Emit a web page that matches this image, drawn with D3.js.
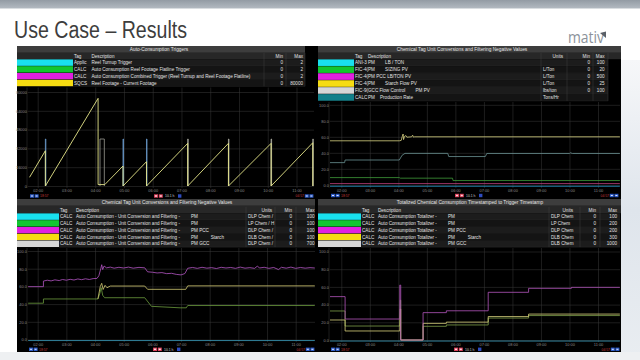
<!DOCTYPE html>
<html><head><meta charset="utf-8">
<script src="https://cdn.jsdelivr.net/npm/d3@7"></script>
<style>
html,body{margin:0;padding:0;background:#fff;}
svg{display:block;font-family:"Liberation Sans",Arial,sans-serif;}
.tt{fill:#e6e6e6;font-size:4.8px;}
.tx{fill:#e2e2e2;font-size:4.6px;white-space:pre;}
.ax text{fill:#8c8c8c;font-size:3.9px;font-family:"Liberation Sans",Arial,sans-serif;}
.ax line{stroke:#3a3a3a;stroke-width:0.5;}
.ax path{display:none;}
</style></head><body>
<svg id="c" width="640" height="360"></svg>
<script>
// ---------------- DATA ----------------
const slideTitle = "Use Case – Results";
const logoText = "mativ";
const hourTicks = ["02:00","03:00","04:00","05:00","06:00","07:00","08:00","09:00","10:00","11:00"];
const toolbarText = ["18:57", "10.1 h", "04:57"];

// Panel 1: Auto-Consumption Triggers
const p1Title = "Auto-Consumption Triggers";
const p1Tags = ["Applic","CALC","CALC","SQCS"];
const p1Desc = ["Reel Turnup Trigger","Auto Consumption Reel Footage Flatline Trigger","Auto Consumption Combined Trigger (Reel Turnup and Reel Footage Flatline)","Reel Footage - Current Footage"];
const p1Min = ["0","0","0","0"];
const p1Max = ["2","2","2","80000"];
const p1YTicks = [0,16000,32000,48000,64000,80000];
const p1TriggerScale = [0,2];
const p1ReelFootage = [["01:43",7400],["02:16",30000],["02:16",0],["04:06",74600],["04:06",1200],["04:20",1200],["04:58",17000],["04:58",0],["05:47",20700],["05:47",0],["07:13",36300],["07:13",0],["08:38",36300],["08:38",0],["10:07",36300],["10:07",0],["11:34",36800],["11:34",0]];
const p1TurnupPulses = [["02:16","02:17"],["04:58","04:59"],["05:47","05:48"]];
const p1FlatlinePulses = [["04:10","04:19"]];
const p1CombinedPulses = [["07:13","07:14"],["08:38","08:39"],["10:07","10:08"],["11:34","11:35"]];

// Panel 2: Chemical Tag Unit Conversions and Filtering Negative Values
const p2Title = "Chemical Tag Unit Conversions and Filtering Negative Values";
const p2Tags = ["ANI-3","FIC-4(","FIC-4(","FIC-4(","FIC-9(","CALC"];
const p2Desc = ["PM        LB / TON","PM        SIZING PV","PM PCC LB/TON PV","PM        Starch Flow PV","GCC Flow Control        PM PV","PM    Production Rate"];
const p2Units = ["","L/Ton","L/Ton","L/Ton","lbs/ton","Tons/Hr"];
const p2Min = ["0","0","0","0","0",""];
const p2Max = ["100","20","500","25","100",""];
const pctTicks = [0,20,40,60,80,100];
const p2Starch = [["01:35",55],["04:02",55],["04:06",55.5],["04:08",60],["04:10",63.5],["04:11",56.5],["04:13",60.5],["04:16",61.5],["04:18",59.5],["04:28",60],["04:30",62],["04:32",59.5],["04:34",60],["11:46",60]];
const p2Production = [["01:35",27.7],["02:07",27.7],["02:08",31],["04:02",31],["04:08",37],["04:14",39.3],["05:44",39.3],["05:46",35.3],["07:03",35.3],["07:06",39.2],["10:00",39.2],["10:02",40],["10:06",39.2],["11:46",39.2]];
const p2Sizing = [["01:35",9],["04:02",9],["04:04",8.3],["05:54",8.3],["05:55",5.3],["11:46",5.3]];
const p2PCC = [["01:35",1.5],["11:46",1.5]];
const p2LbTon = [["01:35",-1.8],["11:46",-1.8]];

// Panel 3: Chemical Tag Unit Conversions (Auto Consumption)
const p3Title = "Chemical Tag Unit Conversions and Filtering Negative Values";
const p3Tags = ["CALC","CALC","CALC","CALC","CALC"];
const p3Desc = ["Auto Consumption - Unit Conversion and Filtering -","Auto Consumption - Unit Conversion and Filtering -","Auto Consumption - Unit Conversion and Filtering -","Auto Consumption - Unit Conversion and Filtering -","Auto Consumption - Unit Conversion and Filtering -"];
const p3Sub = ["PM","PM","PM PCC","PM          Starch","PM GCC"];
const p3Units = ["DLP Chem /","LP Chem / H","DLP Chem /","DLB Chem /","DLP Chem /"];
const p3Min = ["0","0","0","0","0"];
const p3Max = ["100","100","100","100","700"];
const p3PCC = [["01:40",59.7],["02:12",59.7],["02:12",66],["02:20",67],["02:28",66.2],["02:36",67.4],["02:45",66.6],["02:52",67.8],["03:00",67],["03:08",68],["03:16",67.2],["03:24",68.4],["03:32",67.6],["03:40",68.6],["03:48",67.8],["03:56",68.8],["04:04",69],["04:08",72],["04:12",80],["04:14",84.5],["04:16",79],["04:19",83],["04:24",81],["04:32",81.8],["04:40",80.6],["04:50",81.6],["05:00",80.8],["05:10",81.8],["05:20",80.6],["05:32",81.5],["05:44",81],["05:50",76.5],["06:00",76],["06:10",75.2],["06:20",75.6],["06:30",74.4],["06:40",74.8],["06:50",73.6],["07:00",73],["07:08",74.5],["07:14",80.5],["07:24",81.4],["07:34",80.4],["07:44",81.6],["07:54",80.6],["08:04",81.2],["08:14",80.2],["08:24",81.6],["08:34",80.8],["08:44",81.4],["08:54",80.4],["09:04",81.8],["09:14",80.6],["09:24",81.2],["09:34",80.4],["09:40",83],["09:44",80.8],["09:54",81.6],["10:04",80.4],["10:14",81.4],["10:24",79],["10:30",81.6],["10:40",80.6],["10:50",81.8],["11:00",80.4],["11:10",81.4],["11:20",80.6],["11:30",81.2],["11:40",80.8]];
const p3Sizing = [["01:40",41],["02:12",41],["02:12",45.8],["04:06",45.8],["04:10",52],["04:13",58.5],["04:16",50],["04:20",47.2],["05:44",47.2],["05:58",37.5],["06:58",35.8],["07:11",35.8],["07:14",38.4],["11:40",38.4]];
const p3Starch = [["04:06",45.8],["04:11",60],["04:14",63.5],["04:17",56.5],["04:21",61.2],["04:25",58.5],["04:32",60.4],["05:44",60.4],["05:50",56.7],["07:10",56.7],["07:14",60.6],["11:40",60.6]];
const p3LbTon = [["01:40",-1.2],["11:40",-1.2]];

// Panel 4: Totalized Chemical Consumption
const p4Title = "Totalized Chemical Consumption Timestamped to Trigger Timestamp";
const p4Tags = ["CALC","CALC","CALC","CALC","CALC"];
const p4Desc = ["Auto Consumption Totalizer -","Auto Consumption Totalizer -","Auto Consumption Totalizer -","Auto Consumption Totalizer -","Auto Consumption Totalizer -"];
const p4Sub = ["PM","PM","PM PCC","PM          Starch","PM GCC"];
const p4Units = ["DLP Chem","LP Chem","DLP Chem","DLB Chem","DLB Chem"];
const p4Min = ["0","0","0","0","0"];
const p4Max = ["100","200","200","300","1000"];
const p4PCC = [["01:35",49],["02:08",49],["02:08",23.7],["04:03",23.7],["04:03",62],["04:05",62],["04:05",0],["04:52",0],["04:52",30.9],["05:41",30.9],["05:41",33],["07:09",33],["07:09",53.9],["08:34",53.9],["08:34",58.4],["10:04",58.4],["10:04",59.5],["11:46",59.5]];
const p4Sizing = [["01:35",32.8],["02:08",32.8],["02:08",15.8],["04:03",15.8],["04:04",45],["04:05",45],["04:05",0],["04:52",0],["04:52",15.5],["05:41",15.5],["05:41",17],["07:09",17],["07:09",24.8],["08:34",24.8],["08:34",27.6],["11:46",27.6]];
const p4Starch = [["01:35",22.6],["02:08",22.6],["02:08",10.2],["04:03",10.2],["04:04",35],["04:05",35],["04:05",0],["04:52",0],["04:52",18.8],["05:41",18.8],["05:41",20.2],["07:09",20.2],["07:09",26.5],["08:34",26.5],["08:34",29.3],["11:46",29.3]];
const p4LbTon = [["01:35",-1.2],["11:46",-1.2]];

// ---------------- DRAWING ----------------
const CY="#19e0ee", GR="#12c630", MG="#e020e0", YE="#f6dc12", LG="#d6d6d6", TE="#11808a";
const parseT = s => { const [h,m] = s.split(":").map(Number); return new Date(2021,0,1,h,m); };
const svg = d3.select("#c");
const defs = svg.append("defs");

const gTop = defs.append("linearGradient").attr("id","gTop").attr("x1",0).attr("y1",0).attr("x2",0).attr("y2",1);
gTop.append("stop").attr("offset","0").attr("stop-color","#939ba4");
gTop.append("stop").attr("offset","1").attr("stop-color","#b3bac1");
const gRight = defs.append("linearGradient").attr("id","gRight").attr("x1",0).attr("y1",0).attr("x2",0).attr("y2",1);
gRight.append("stop").attr("offset","0").attr("stop-color","#f6f7f9");
gRight.append("stop").attr("offset","0.5").attr("stop-color","#dfe5ec");
gRight.append("stop").attr("offset","1").attr("stop-color","#e9edf1");

svg.append("rect").attr("width",640).attr("height",360).attr("fill","#ffffff");
svg.append("rect").attr("x",621).attr("y",60).attr("width",19).attr("height",300).attr("fill","url(#gRight)");
svg.append("rect").attr("x",0).attr("y",352).attr("width",640).attr("height",8).attr("fill","#eef0f2");
svg.append("rect").attr("x",0).attr("y",0).attr("width",640).attr("height",8.5).attr("fill","url(#gTop)");

svg.append("text").attr("x",14).attr("y",37.5).attr("font-size",23.5).attr("fill","#3d3d3d")
  .attr("textLength",173).attr("lengthAdjust","spacingAndGlyphs").text(slideTitle);
svg.append("text").attr("x",568).attr("y",43).attr("font-size",16.5).attr("fill","#8b929a")
  .attr("font-family","'Open Sans',sans-serif").attr("textLength",36).attr("lengthAdjust","spacingAndGlyphs").text(logoText);
svg.append("path").attr("d","M600,33 L606,31.5 L606,38 Z").attr("fill","#5a6068");

// black panel background
svg.append("rect").attr("x",17).attr("y",46).attr("width",604).attr("height",306).attr("fill","#000");

function drawTable(p) {
  const g = svg.append("g");
  g.append("rect").attr("x",p.x0).attr("y",p.top).attr("width",p.x1-p.x0).attr("height",p.rowTop-p.top).attr("fill","#272727");
  g.append("rect").attr("x",p.x0).attr("y",p.top).attr("width",p.x1-p.x0).attr("height",6.4).attr("fill","#3d3d3d");
  g.append("text").attr("class","tt").attr("x",p.titleX).attr("y",p.top+5).attr("text-anchor","middle").text(p.title);
  const hy = p.rowTop - 1.5;
  g.append("text").attr("class","tx").attr("x",p.tagX).attr("y",hy).text("Tag");
  g.append("text").attr("class","tx").attr("x",p.descX).attr("y",hy).text("Description");
  if (p.units) g.append("text").attr("class","tx").attr("x",p.unitsHX).attr("y",hy).attr("text-anchor","end").text("Units");
  g.append("text").attr("class","tx").attr("x",p.minX).attr("y",hy).attr("text-anchor","end").text("Min");
  g.append("text").attr("class","tx").attr("x",p.maxX).attr("y",hy).attr("text-anchor","end").text("Max");
  const rows = p.tags.map((t,i)=>({i, tag:t, desc:p.desc[i], sub:p.sub?p.sub[i]:null, units:p.units?p.units[i]:null, min:p.min[i], max:p.max[i], color:p.colors[i]}));
  const rg = g.selectAll("g.row").data(rows).join("g").attr("transform",d=>`translate(0,${p.rowTop + d.i*p.rowH})`);
  rg.append("rect").attr("x",p.x0).attr("y",0).attr("width",p.tabR-p.x0).attr("height",p.rowH).attr("fill",d=>d.i%2?"#141414":"#1c1c1c");
  rg.append("line").attr("x1",p.tagX-1).attr("x2",p.tabR).attr("y1",p.rowH).attr("y2",p.rowH).attr("stroke","#3a3a3a").attr("stroke-width",0.3);
  rg.append("rect").attr("x",p.x0).attr("y",0.2).attr("width",p.swR-p.x0).attr("height",p.rowH-0.4).attr("fill",d=>d.color);
  const ty = p.rowH/2 + 1.6;
  rg.append("text").attr("class","tx").attr("x",p.tagX).attr("y",ty).text(d=>d.tag);
  rg.append("text").attr("class","tx").attr("x",p.descX).attr("y",ty).text(d=>d.desc);
  if (p.sub) rg.append("text").attr("class","tx").attr("x",p.subX).attr("y",ty).text(d=>d.sub);
  if (p.units) rg.append("text").attr("class","tx").attr("x",p.unitsX).attr("y",ty).text(d=>d.units);
  rg.append("text").attr("class","tx").attr("x",p.minX).attr("y",ty).attr("text-anchor","end").text(d=>d.min);
  rg.append("text").attr("class","tx").attr("x",p.maxX).attr("y",ty).attr("text-anchor","end").text(d=>d.max);
  const seps = p.seps;
  const bottom = p.rowTop + rows.length*p.rowH;
  g.selectAll("line.sep").data(seps).join("line").attr("x1",d=>d).attr("x2",d=>d).attr("y1",p.rowTop-6.4).attr("y2",bottom).attr("stroke","#4a4a4a").attr("stroke-width",0.4);
}

function drawPlot(p) {
  const g = svg.append("g");
  const x = d3.scaleTime().domain([parseT(hourTicks[0]), parseT(hourTicks[hourTicks.length-1])]).range([p.x2, p.x11]);
  const y = d3.scaleLinear().domain([p.yTicks[0], p.yTicks[p.yTicks.length-1]]).range([p.y0, p.y1]);
  const cid = "clip"+p.id;
  defs.append("clipPath").attr("id",cid).append("rect").attr("x",p.pl).attr("y",p.pt).attr("width",p.pr-p.pl).attr("height",p.pb-p.pt);
  g.append("line").attr("x1",p.pl-1).attr("x2",p.pl-1).attr("y1",p.pt).attr("y2",p.pb).attr("stroke","#3a3a3a").attr("stroke-width",0.5);
  const ya = d3.axisLeft(y).tickValues(p.yTicks).tickFormat(p.yFmt).tickSize(-(p.pr-p.pl)).tickPadding(1.2);
  const yg = g.append("g").attr("class","ax").attr("transform",`translate(${p.pl},0)`).call(ya);
  yg.selectAll("text").attr("fill",p.yColor).attr("dy","0.35em");
  const xa = d3.axisBottom(x).tickValues(hourTicks.map(parseT)).tickFormat((d,i)=>hourTicks[i]).tickSize(-(p.pb-p.pt)).tickPadding(1.2);
  g.append("g").attr("class","ax").attr("transform",`translate(0,${p.pb})`).call(xa);
  const lg = g.append("g").attr("clip-path",`url(#${cid})`);
  p.series.forEach(s => {
    const ys = s.scale ? d3.scaleLinear().domain(s.scale).range([p.y0,p.y1]) : y;
    const line = d3.line().x(d=>x(parseT(d[0]))).y(d=>ys(d[1]));
    if (s.pulses) {
      s.pulses.forEach(pu => {
        const pts = [[pu[0],0],[pu[0],1],[pu[1],1],[pu[1],0]];
        lg.append("path").attr("d",line(pts)).attr("fill","none").attr("stroke",s.color).attr("stroke-width",s.w||0.8);
      });
    } else {
      lg.append("path").attr("d",line(s.data)).attr("fill","none").attr("stroke",s.color).attr("stroke-width",s.w||0.8).attr("stroke-linejoin","round");
    }
  });
}

function drawToolbar(t) {
  const g = svg.append("g");
  const h = 3.4;
  [0,4.6].forEach(o => {
    g.append("rect").attr("x",t.left+o).attr("y",t.y).attr("width",4).attr("height",h).attr("fill","#2e5cc6");
    g.append("rect").attr("x",t.left+o+1).attr("y",t.y+1.2).attr("width",2).attr("height",1).attr("fill","#dfe6ff");
  });
  g.append("text").attr("x",t.left+10).attr("y",t.y+2.9).attr("font-size",3.4).attr("fill","#c43a3a").text(toolbarText[0]);
  [0,4.8].forEach(o => {
    g.append("rect").attr("x",t.mid+o).attr("y",t.y).attr("width",4).attr("height",h).attr("fill","#d8405a");
    g.append("rect").attr("x",t.mid+o+1).attr("y",t.y+1).attr("width",2).attr("height",1.4).attr("fill","#ffd6dc");
  });
  g.append("text").attr("x",t.mid+11).attr("y",t.y+2.9).attr("font-size",3.4).attr("fill","#d0d0d0").text(toolbarText[1]);
  g.append("rect").attr("x",t.mid+24).attr("y",t.y).attr("width",3.4).attr("height",h).attr("fill","#2e4cc0");
  g.append("text").attr("x",t.right-10).attr("y",t.y+2.9).attr("font-size",3.4).attr("fill","#c43a3a").attr("text-anchor","end").text(toolbarText[2]);
  [-9.2,-4.6].forEach(o => {
    g.append("rect").attr("x",t.right+o).attr("y",t.y).attr("width",4).attr("height",h).attr("fill","#2e5cc6");
    g.append("rect").attr("x",t.right+o+1).attr("y",t.y+1.2).attr("width",2).attr("height",1).attr("fill","#dfe6ff");
  });
}

const pctFmt = d => d3.format(".1f")(d);

// Panel 1
drawTable({x0:17,x1:305,tabR:305,top:46,rowTop:59.2,rowH:6.8,title:p1Title,titleX:159,
  tagX:74,descX:91.5,minX:283,maxX:303,swR:73,seps:[264,286,305],
  tags:p1Tags,desc:p1Desc,min:p1Min,max:p1Max,colors:[CY,GR,MG,YE]});
drawPlot({id:1,pl:28,pr:314,pt:87.5,pb:188,x2:37.7,x11:296.5,y0:186,y1:92,yTicks:p1YTicks,yFmt:d3.format("d"),yColor:"#b4ad55",
  series:[
    {pulses:p1FlatlinePulses,scale:p1TriggerScale,color:"#9a9a92"},
    {pulses:p1TurnupPulses,scale:p1TriggerScale,color:"#6d9fd2"},
    {pulses:p1CombinedPulses,scale:p1TriggerScale,color:"#b2b2a6"},
    {data:p1ReelFootage,color:"#e6e68a",w:0.9}
  ]});
drawToolbar({y:194.3,left:30,mid:154,right:314});

// Panel 2
drawTable({x0:318,x1:621,tabR:608,top:46,rowTop:59.2,rowH:6.95,title:p2Title,titleX:462,
  tagX:355,descX:368,unitsX:543,unitsHX:563,minX:590,maxX:604.5,swR:354,seps:[541,567,593,608],
  tags:p2Tags,desc:p2Desc,units:p2Units,min:p2Min,max:p2Max,colors:[CY,GR,MG,YE,LG,TE]});
drawPlot({id:2,pl:330,pr:620,pt:102,pb:188,x2:341.3,x11:598,y0:184.8,y1:104.8,yTicks:pctTicks,yFmt:pctFmt,yColor:"#8e8e8e",
  series:[
    {data:p2LbTon,color:"#2a9ed2"},
    {data:p2PCC,color:"#c0407e"},
    {data:p2Sizing,color:"#3f9a3a"},
    {data:p2Production,color:"#6b9394"},
    {data:p2Starch,color:"#d8d282"}
  ]});
drawToolbar({y:193.8,left:331,mid:455,right:619});

// Panel 3
drawTable({x0:17,x1:315,tabR:315,top:199,rowTop:213.2,rowH:6.8,title:p3Title,titleX:167,
  tagX:60,descX:76,subX:191,unitsX:248,unitsHX:272,minX:292,maxX:314.5,swR:59,seps:[246,275,296],
  tags:p3Tags,desc:p3Desc,sub:p3Sub,units:p3Units,min:p3Min,max:p3Max,colors:[CY,GR,MG,YE,LG]});
drawPlot({id:3,pl:28,pr:315,pt:248,pb:342,x2:37.7,x11:295.7,y0:339.5,y1:251,yTicks:pctTicks,yFmt:pctFmt,yColor:"#8e8e8e",
  series:[
    {data:p3LbTon,color:"#3a9cbc"},
    {data:p3Sizing,color:"#6c9c3e"},
    {data:p3Starch,color:"#d4cc74"},
    {data:p3PCC,color:"#b456c4"}
  ]});
drawToolbar({y:347.6,left:29,mid:153,right:315});

// Panel 4
drawTable({x0:318,x1:621,tabR:620,top:199,rowTop:213.2,rowH:6.8,title:p4Title,titleX:470,
  tagX:362,descX:378,subX:448,unitsX:551,unitsHX:573,minX:596,maxX:617,swR:361,seps:[549,580,600],
  tags:p4Tags,desc:p4Desc,sub:p4Sub,units:p4Units,min:p4Min,max:p4Max,colors:[CY,GR,MG,YE,LG]});
drawPlot({id:4,pl:330,pr:620,pt:248,pb:342,x2:341.3,x11:598,y0:340,y1:251.5,yTicks:pctTicks,yFmt:pctFmt,yColor:"#8e8e8e",
  series:[
    {data:p4LbTon,color:"#3a9cbc"},
    {data:p4Sizing,color:"#7fa04a"},
    {data:p4Starch,color:"#d8d07c"},
    {data:p4PCC,color:"#b456bc"}
  ]});
drawToolbar({y:347.6,left:331,mid:454,right:620});
</script>
</body></html>
